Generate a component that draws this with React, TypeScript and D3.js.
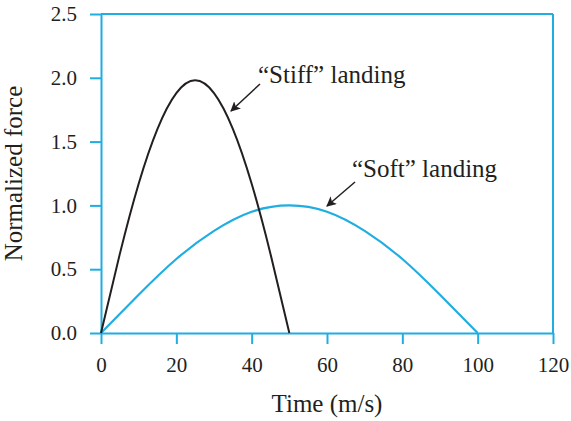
import * as d3 from 'd3';
import { useEffect, useRef } from 'react';

// time (ms) and normalized force
const stiffTime = [0, 5, 10, 15, 20, 25, 30, 35, 40, 45, 50];
const stiffForce = [0, 0.62, 1.17, 1.6, 1.88, 1.98, 1.88, 1.6, 1.17, 0.62, 0];

const softTime = [0, 10, 20, 30, 40, 50, 60, 70, 80, 90, 100];
const softForce = [0, 0.3, 0.58, 0.8, 0.95, 1.0, 0.95, 0.8, 0.58, 0.3, 0];

const xTicks = [0, 20, 40, 60, 80, 100, 120];
const yTicks = [0, 0.5, 1.0, 1.5, 2.0, 2.5];

const CYAN = '#1fade2';
const INK = '#231f20';
const FONT = '"Liberation Serif", "DejaVu Serif", serif';

export default function App() {
    const chartRef = useRef<SVGSVGElement | null>(null);

    useEffect(() => {
        if (!chartRef.current) return;
        d3.select(chartRef.current).selectAll('*').remove();

        const width = 571;
        const height = 421;
        const margin = { top: 14, right: 18, bottom: 88, left: 101 };

        const svg = d3.select(chartRef.current);
        svg.attr('viewBox', `0 0 ${width} ${height}`);

        const x = d3.scaleLinear().domain([0, 120]).range([margin.left, width - margin.right]);
        const y = d3.scaleLinear().domain([0, 2.5]).range([height - margin.bottom, margin.top]);

        // arrow head
        svg.append('defs')
            .append('marker')
            .attr('id', 'arrow')
            .attr('viewBox', '0 0 10 10')
            .attr('refX', 9)
            .attr('refY', 5)
            .attr('markerWidth', 10)
            .attr('markerHeight', 10)
            .attr('markerUnits', 'userSpaceOnUse')
            .attr('orient', 'auto')
            .append('path')
            .attr('d', 'M0,0 L10,5 L0,10 L2.5,5 Z')
            .attr('fill', INK);

        // frame: top + right
        svg.append('line')
            .attr('x1', x(0))
            .attr('x2', x(120))
            .attr('y1', y(2.5))
            .attr('y2', y(2.5))
            .attr('stroke', CYAN)
            .attr('stroke-width', 2);
        svg.append('line')
            .attr('x1', x(120))
            .attr('x2', x(120))
            .attr('y1', y(2.5))
            .attr('y2', y(0))
            .attr('stroke', CYAN)
            .attr('stroke-width', 2);

        // x axis
        svg.append('g')
            .attr('transform', `translate(0,${y(0)})`)
            .call(d3.axisBottom(x).tickValues(xTicks).tickSizeInner(11).tickSizeOuter(0).tickPadding(13))
            .call((g) => g.selectAll('line, path').attr('stroke', CYAN).attr('stroke-width', 2))
            .selectAll('text')
            .attr('fill', INK)
            .style('font-family', FONT)
            .style('font-size', '21px');

        // y axis
        svg.append('g')
            .attr('transform', `translate(${x(0)},0)`)
            .call(
                d3
                    .axisLeft(y)
                    .tickValues(yTicks)
                    .tickSizeInner(11)
                    .tickSizeOuter(0)
                    .tickPadding(13)
                    .tickFormat(d3.format('.1f')),
            )
            .call((g) => g.selectAll('line, path').attr('stroke', CYAN).attr('stroke-width', 2))
            .selectAll('text')
            .attr('fill', INK)
            .style('font-family', FONT)
            .style('font-size', '21px');

        const line = d3
            .line<[number, number]>()
            .x((d) => x(d[0]))
            .y((d) => y(d[1]))
            .curve(d3.curveNatural);

        svg.append('path')
            .datum(softTime.map((t, i) => [t, softForce[i]] as [number, number]))
            .attr('d', line)
            .attr('fill', 'none')
            .attr('stroke', CYAN)
            .attr('stroke-width', 2.2);

        svg.append('path')
            .datum(stiffTime.map((t, i) => [t, stiffForce[i]] as [number, number]))
            .attr('d', line)
            .attr('fill', 'none')
            .attr('stroke', INK)
            .attr('stroke-width', 2);

        // axis titles
        svg.append('text')
            .attr('x', (x(0) + x(120)) / 2)
            .attr('y', 412)
            .attr('text-anchor', 'middle')
            .attr('fill', INK)
            .style('font-family', FONT)
            .style('font-size', '25px')
            .text('Time (m/s)');

        svg.append('text')
            .attr('transform', `translate(22,${(y(0) + y(2.5)) / 2}) rotate(-90)`)
            .attr('text-anchor', 'middle')
            .attr('fill', INK)
            .style('font-family', FONT)
            .style('font-size', '25px')
            .text('Normalized force');

        // annotations
        const notes = [
            { label: '“Stiff” landing', tx: 258, ty: 83, from: [260, 84], to: [231, 111] },
            { label: '“Soft” landing', tx: 352, ty: 177, from: [355, 182], to: [327, 206] },
        ];
        notes.forEach((n) => {
            svg.append('text')
                .attr('x', n.tx)
                .attr('y', n.ty)
                .attr('fill', INK)
                .style('font-family', FONT)
                .style('font-size', '25px')
                .text(n.label);
            svg.append('line')
                .attr('x1', n.from[0])
                .attr('y1', n.from[1])
                .attr('x2', n.to[0])
                .attr('y2', n.to[1])
                .attr('stroke', INK)
                .attr('stroke-width', 1.5)
                .attr('marker-end', 'url(#arrow)');
        });
    }, []);

    return (
        <svg
            ref={chartRef}
            width={571}
            height={421}
            style={{ position: 'absolute', left: 0, top: 0, background: '#fff' }}
        />
    );
}
